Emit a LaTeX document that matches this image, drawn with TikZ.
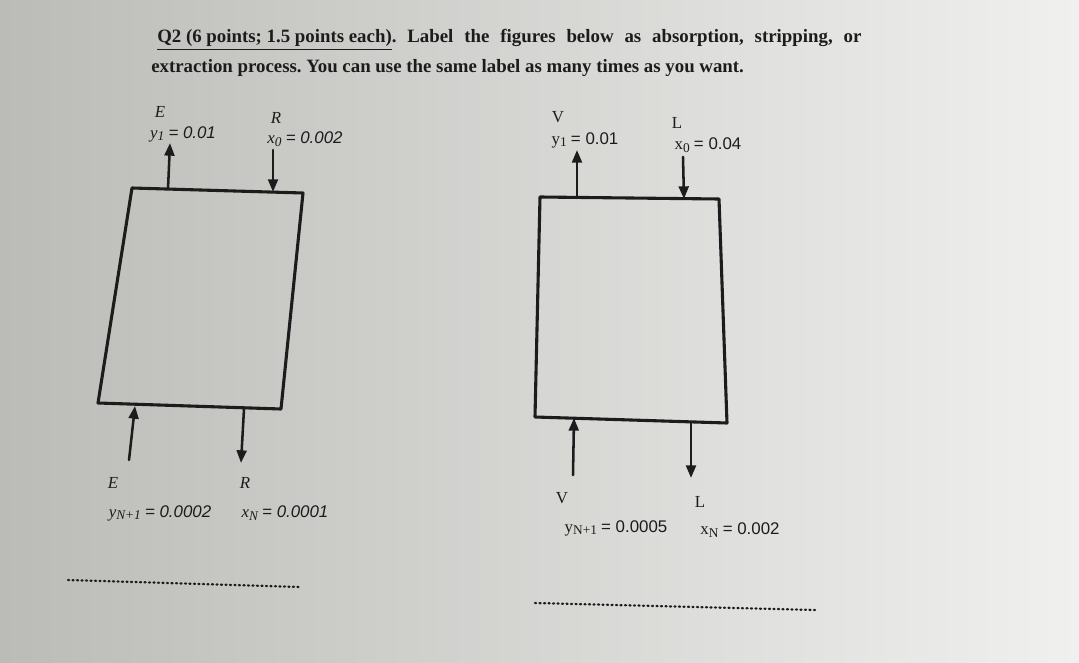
\documentclass[tikz,border=0pt]{standalone}
\usepackage{fontspec}
\setmainfont{Liberation Serif}
\newfontfamily\numfont{Liberation Sans}
\usepackage{tikz}
\usetikzlibrary{arrows.meta,calc}
\usepackage{tkz-euclide}
\usepackage{xcolor}
\definecolor{PaperDark}{HTML}{BBBBB8}
\definecolor{PaperLight}{HTML}{F0F0EE}
\definecolor{InkBlack}{HTML}{1C1C1C}
\frenchspacing

\newcommand{\subtxt}[1]{\raisebox{-0.35ex}{\fontsize{9.5}{10}\selectfont #1}}
\newcommand{\lval}[3]{{\itshape #1\subtxt{#2} {\numfont= #3}}}
\newcommand{\rval}[3]{#1\subtxt{#2} {\numfont= #3}}

\begin{document}
\begin{tikzpicture}[x=0.025cm,y=-0.025cm,
    box/.style={line width=2.2pt,InkBlack},
    flow/.style={line width=1.8pt,InkBlack,-{Triangle[length=9pt,width=7pt]}},
    blank/.style={line width=1.6pt,InkBlack,dash pattern=on 0.8pt off 2.4pt},
    lab/.style={anchor=center,inner sep=0pt,InkBlack,font=\fontsize{12}{14}\selectfont},
    headline/.style={anchor=base west,inner sep=0pt,InkBlack,font=\bfseries\fontsize{13.4}{16}\selectfont}]
   \useasboundingbox (0,0) rectangle (1079,663);
   \shade[left color=PaperDark,right color=PaperLight] (0,0) rectangle (1079,663);

   \node[headline] (head) at (157,43)
      {\hbox to 17.6cm{\underline{Q2 (6 points; 1.5 points each)}. Label the figures below as absorption, stripping, or}};
   \node[headline] (head2) at (151,73)
      {extraction process. You can use the same label as many times as you want.};

   % left column
   \tkzDefPoints{132/188/a,303/193/b,281/409/c,98/403/d}
   \tkzDefPoints{168/189/ea,170/143/eb,273/150/ra,273/192/rb,135/406/ec,129/460/ed,244/409/rc,241/463/rd}
   \tkzDrawPolygon[box](a,b,c,d)
   \tkzDrawSegments[flow](ea,eb ra,rb ed,ec rc,rd)

   \tkzDefPoints{160/112/le1,183/134/ly1,276/118/lr1,305/139/lx1}
   \tkzDefPoints{113/483/le2,245/483/lr2,160/513/ly2,285/513/lx2}
   \tkzLabelPoint[lab](le1){\textit{E}}
   \tkzLabelPoint[lab](ly1){\lval{y}{1}{0.01}}
   \tkzLabelPoint[lab](lr1){\textit{R}}
   \tkzLabelPoint[lab](lx1){\lval{x}{0}{0.002}}
   \tkzLabelPoint[lab](le2){\textit{E}}
   \tkzLabelPoint[lab](lr2){\textit{R}}
   \tkzLabelPoint[lab](ly2){\lval{y}{N+1}{0.0002}}
   \tkzLabelPoint[lab](lx2){\lval{x}{N}{0.0001}}

   % right column
   \tkzDefPoints{540/197/f,719/199/g,727/423/h,535/417/i}
   \tkzDefPoints{577/198/va,577/150/vb,683/157/la,684/199/lb,574/418/vc,573/475/vd,691/423/lc,691/478/ld}
   \tkzDrawPolygon[box](f,g,h,i)
   \tkzDrawSegments[flow](va,vb la,lb vd,vc lc,ld)

   \tkzDefPoints{558/117/lv1,585/140/ly3,677/123/ll1,708/145/lx3}
   \tkzDefPoints{562/498/lv2,700/502/ll2,616/528/ly4,740/530/lx4}
   \tkzLabelPoint[lab](lv1){V}
   \tkzLabelPoint[lab](ly3){\rval{y}{1}{0.01}}
   \tkzLabelPoint[lab](ll1){L}
   \tkzLabelPoint[lab](lx3){\rval{x}{0}{0.04}}
   \tkzLabelPoint[lab](lv2){V}
   \tkzLabelPoint[lab](ll2){L}
   \tkzLabelPoint[lab](ly4){\rval{y}{N+1}{0.0005}}
   \tkzLabelPoint[lab](lx4){\rval{x}{N}{0.002}}

   % answer lines
   \tkzDefPoints{68/580/p,300/587/q,535/603/s,815/610/t}
   \tkzDrawSegments[blank](p,q s,t)
\end{tikzpicture}
\end{document}
